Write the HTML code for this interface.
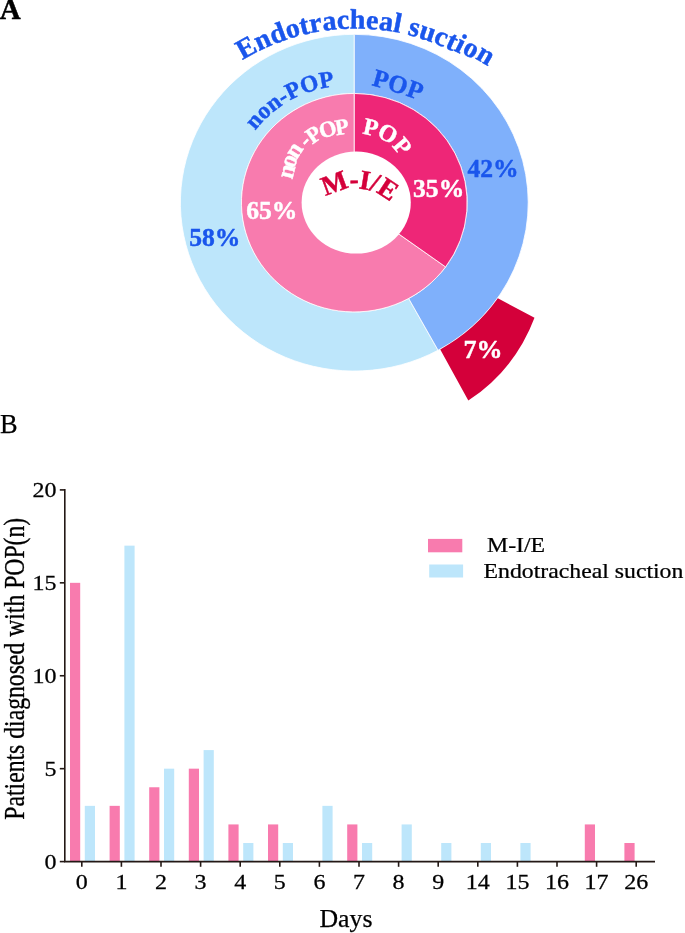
<!DOCTYPE html>
<html><head><meta charset="utf-8"><title>Figure</title>
<style>
html,body{margin:0;padding:0;background:#fff;}
body{width:685px;height:933px;overflow:hidden;}
svg{display:block;}
text{font-family:"Liberation Serif",serif;}
.r{stroke:#000;stroke-width:0.25px;}
.b{font-weight:bold;stroke-width:0.45px;stroke-linejoin:round;}
</style></head><body>
<svg width="685" height="933" viewBox="0 0 685 933">
<rect width="685" height="933" fill="#fff"/>

<text class="b" x="-0.3" y="18.8" font-size="29" fill="#000" stroke="#000">A</text>
<text class="r" x="0" y="432.6" font-size="26.4" fill="#000">B</text>
<g transform="translate(354.3,202.7) scale(1.033,1)">
<path d="M81.10,147.53 A168.35,168.35 0 1 1 -0.00,-168.35 L-0.00,-109.25 A109.25,109.25 0 1 0 52.63,95.74 Z" fill="#BDE6FB" stroke="#fff" stroke-width="0.8"/>
<path d="M0.00,-168.35 A168.35,168.35 0 0 1 81.10,147.53 L52.63,95.74 A109.25,109.25 0 0 0 0.00,-109.25 Z" fill="#7FB0FB" stroke="#fff" stroke-width="0.8"/>
<path d="M88.39,64.22 A109.25,109.25 0 1 1 -0.00,-109.25 L-0.00,-49.00 A49.0,49.0 0 1 0 39.64,28.80 Z" fill="#F87BAE" stroke="#fff" stroke-width="0.8"/>
<path d="M0.00,-109.25 A109.25,109.25 0 0 1 88.39,64.22 L39.64,28.80 A49.0,49.0 0 0 0 0.00,-49.00 Z" fill="#EE2677" stroke="#fff" stroke-width="0.8"/>
</g>
<ellipse cx="356.2" cy="202.6" rx="54.6" ry="51" fill="#fff"/>
<path d="M440.25,349.46 L468.3,400.6 A172,172 0 0 0 534.5,317.8 L497.83,298.37 A174.27,168.70 0 0 1 440.25,349.46 Z" fill="#D4003A"/>
<text class="b" font-size="28" fill="#1A56EC" stroke="#1A56EC" x="242.31 258.84 273.19 287.98 301.59 310.82 323.21 337.28 349.86 365.59 378.15 392.16 399.96 406.95 417.65 432.54 444.16 453.29 461.25 474.72" y="59.98 50.95 44.48 39.10 35.21 33.03 30.78 29.17 28.43 28.65 29.58 31.59 33.08 34.63 37.45 42.54 47.38 50.31 52.73 58.20" rotate="-28.8 -24.3 -20.1 -16.2 -13.1 -10.2 -6.7 -3.1 0.6 4.3 7.8 10.8 12.7 15.1 18.7 22.4 25.3 26.6 28.0 30.4">Endotracheal suction</text>
<text class="b" font-size="23.5" fill="#1A56EC" stroke="#1A56EC" x="254.97 263.69 272.41 283.10 289.84 302.86 320.47" y="130.40 120.48 112.39 104.64 100.37 93.94 88.50" rotate="-48.9 -42.7 -36.5 -31.3 -25.8 -17.6 -9.5">non-POP</text>
<text class="b" font-size="25" fill="#1A56EC" stroke="#1A56EC" x="371.21 386.27 405.13" y="85.02 89.27 95.39" rotate="15.9 17.9 19.8">POP</text>
<text class="b" font-size="22.5" fill="#fff" stroke="#fff" x="292.17 293.75 296.47 307.27 312.18 321.60 336.18" y="179.68 169.18 160.10 147.88 144.57 138.83 135.37" rotate="-76.0 -69.0 -57.0 -47.0 -35.0 -17.0 -9.0"><tspan font-size="24.5">non</tspan>-POP</text>
<text class="b" font-size="24" fill="#fff" stroke="#fff" x="361.94 375.99 391.48" y="133.53 136.04 145.85" rotate="12.4 28.2 49.9">POP</text>
<text class="b" font-size="27.5" fill="#D4003A" stroke="#D4003A" x="325.37 349.67 358.36 368.41 375.52" y="196.08 188.58 188.32 190.12 191.87" rotate="-20.1 -1.0 9.6 19.4 33.4">M-I/E</text>
<text class="b" x="214.75" y="246.0" font-size="25.6" fill="#1A56EC" stroke="#1A56EC" text-anchor="middle">58%</text>
<text class="b" x="271.75" y="218.6" font-size="25.6" fill="#fff" stroke="#fff" text-anchor="middle">65%</text>
<text class="b" x="438.65" y="197.2" font-size="25.6" fill="#fff" stroke="#fff" text-anchor="middle">35%</text>
<text class="b" x="493.00" y="176.8" font-size="25.6" fill="#1A56EC" stroke="#1A56EC" text-anchor="middle">42%</text>
<text class="b" x="482.90" y="357.5" font-size="26" fill="#fff" stroke="#fff" text-anchor="middle">7%</text>
<rect x="70.00" y="582.83" width="10.2" height="278.78" fill="#F87BAE"/>
<rect x="84.80" y="805.85" width="10.2" height="55.76" fill="#BDE6FB"/>
<rect x="109.60" y="805.85" width="10.2" height="55.76" fill="#F87BAE"/>
<rect x="124.40" y="545.65" width="10.2" height="315.94" fill="#BDE6FB"/>
<rect x="149.20" y="787.26" width="10.2" height="74.34" fill="#F87BAE"/>
<rect x="164.00" y="768.67" width="10.2" height="92.93" fill="#BDE6FB"/>
<rect x="188.80" y="768.67" width="10.2" height="92.93" fill="#F87BAE"/>
<rect x="203.60" y="750.09" width="10.2" height="111.51" fill="#BDE6FB"/>
<rect x="228.40" y="824.43" width="10.2" height="37.17" fill="#F87BAE"/>
<rect x="243.20" y="843.01" width="10.2" height="18.59" fill="#BDE6FB"/>
<rect x="268.00" y="824.43" width="10.2" height="37.17" fill="#F87BAE"/>
<rect x="282.80" y="843.01" width="10.2" height="18.59" fill="#BDE6FB"/>
<rect x="322.40" y="805.85" width="10.2" height="55.76" fill="#BDE6FB"/>
<rect x="347.20" y="824.43" width="10.2" height="37.17" fill="#F87BAE"/>
<rect x="362.00" y="843.01" width="10.2" height="18.59" fill="#BDE6FB"/>
<rect x="401.60" y="824.43" width="10.2" height="37.17" fill="#BDE6FB"/>
<rect x="441.20" y="843.01" width="10.2" height="18.59" fill="#BDE6FB"/>
<rect x="480.80" y="843.01" width="10.2" height="18.59" fill="#BDE6FB"/>
<rect x="520.40" y="843.01" width="10.2" height="18.59" fill="#BDE6FB"/>
<rect x="584.80" y="824.43" width="10.2" height="37.17" fill="#F87BAE"/>
<rect x="624.40" y="843.01" width="10.2" height="18.59" fill="#F87BAE"/>
<g stroke="#231815" stroke-width="1.6" fill="none">
<path d="M64.8,489.1 V861.6 H655"/>
<path d="M59.8,861.60 H64.8"/>
<path d="M59.8,768.67 H64.8"/>
<path d="M59.8,675.75 H64.8"/>
<path d="M59.8,582.83 H64.8"/>
<path d="M59.8,489.90 H64.8"/>
<path d="M81.80,861.6 V866.8000000000001"/>
<path d="M121.40,861.6 V866.8000000000001"/>
<path d="M161.00,861.6 V866.8000000000001"/>
<path d="M200.60,861.6 V866.8000000000001"/>
<path d="M240.20,861.6 V866.8000000000001"/>
<path d="M279.80,861.6 V866.8000000000001"/>
<path d="M319.40,861.6 V866.8000000000001"/>
<path d="M359.00,861.6 V866.8000000000001"/>
<path d="M398.60,861.6 V866.8000000000001"/>
<path d="M438.20,861.6 V866.8000000000001"/>
<path d="M477.80,861.6 V866.8000000000001"/>
<path d="M517.40,861.6 V866.8000000000001"/>
<path d="M557.00,861.6 V866.8000000000001"/>
<path d="M596.60,861.6 V866.8000000000001"/>
<path d="M636.20,861.6 V866.8000000000001"/>
</g>
<text class="r" transform="translate(56.50,868.50) scale(1.17,1)" font-size="20.5" text-anchor="end" fill="#000">0</text>
<text class="r" transform="translate(56.50,775.57) scale(1.17,1)" font-size="20.5" text-anchor="end" fill="#000">5</text>
<text class="r" transform="translate(56.50,682.65) scale(1.17,1)" font-size="20.5" text-anchor="end" fill="#000">10</text>
<text class="r" transform="translate(56.50,589.73) scale(1.17,1)" font-size="20.5" text-anchor="end" fill="#000">15</text>
<text class="r" transform="translate(56.50,496.80) scale(1.17,1)" font-size="20.5" text-anchor="end" fill="#000">20</text>
<text class="r" transform="translate(81.80,888.5) scale(1.17,1)" font-size="20.5" text-anchor="middle" fill="#000">0</text>
<text class="r" transform="translate(121.40,888.5) scale(1.17,1)" font-size="20.5" text-anchor="middle" fill="#000">1</text>
<text class="r" transform="translate(161.00,888.5) scale(1.17,1)" font-size="20.5" text-anchor="middle" fill="#000">2</text>
<text class="r" transform="translate(200.60,888.5) scale(1.17,1)" font-size="20.5" text-anchor="middle" fill="#000">3</text>
<text class="r" transform="translate(240.20,888.5) scale(1.17,1)" font-size="20.5" text-anchor="middle" fill="#000">4</text>
<text class="r" transform="translate(279.80,888.5) scale(1.17,1)" font-size="20.5" text-anchor="middle" fill="#000">5</text>
<text class="r" transform="translate(319.40,888.5) scale(1.17,1)" font-size="20.5" text-anchor="middle" fill="#000">6</text>
<text class="r" transform="translate(359.00,888.5) scale(1.17,1)" font-size="20.5" text-anchor="middle" fill="#000">7</text>
<text class="r" transform="translate(398.60,888.5) scale(1.17,1)" font-size="20.5" text-anchor="middle" fill="#000">8</text>
<text class="r" transform="translate(438.20,888.5) scale(1.17,1)" font-size="20.5" text-anchor="middle" fill="#000">9</text>
<text class="r" transform="translate(477.80,888.5) scale(1.17,1)" font-size="20.5" text-anchor="middle" fill="#000">14</text>
<text class="r" transform="translate(517.40,888.5) scale(1.17,1)" font-size="20.5" text-anchor="middle" fill="#000">15</text>
<text class="r" transform="translate(557.00,888.5) scale(1.17,1)" font-size="20.5" text-anchor="middle" fill="#000">16</text>
<text class="r" transform="translate(596.60,888.5) scale(1.17,1)" font-size="20.5" text-anchor="middle" fill="#000">17</text>
<text class="r" transform="translate(636.20,888.5) scale(1.17,1)" font-size="20.5" text-anchor="middle" fill="#000">26</text>
<text class="r" x="346" y="927.2" font-size="25.8" text-anchor="middle" fill="#000">Days</text>
<text class="r" transform="translate(24.1,819.7) rotate(-90) scale(1,1.2)" font-size="23.7" fill="#000">Patients diagnosed with POP(n)</text>
<rect x="428" y="538.9" width="34.3" height="13.4" fill="#F87BAE"/>
<rect x="429.2" y="564.5" width="33.9" height="13" fill="#BDE6FB"/>
<text class="r" transform="translate(487.1,552.3) scale(1.165,1)" font-size="20.4" fill="#000">M-I/E</text>
<text class="r" transform="translate(483.6,577.8) scale(1.165,1)" font-size="20.4" fill="#000">Endotracheal suction</text>
</svg></body></html>
